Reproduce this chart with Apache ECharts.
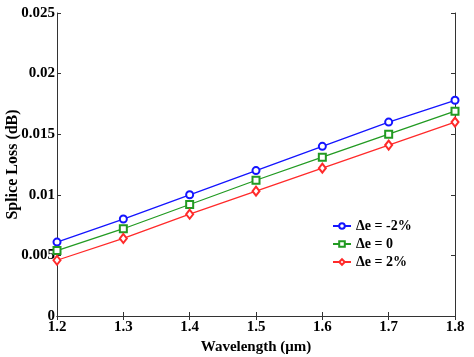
<!DOCTYPE html>
<html><head><meta charset="utf-8">
<script src="https://cdn.jsdelivr.net/npm/echarts@6/dist/echarts.min.js"></script>
<style>html,body{margin:0;padding:0;background:#fff}#c{width:474px;height:357px}</style>
</head><body><div id="c"></div>
<script>
const wavelengths = [1.2, 1.3, 1.4, 1.5, 1.6, 1.7, 1.8];
const seriesNames = ['Δe = -2%', 'Δe = 0', 'Δe = 2%'];
const lossMinus2 = [0.0061, 0.0080, 0.0100, 0.0120, 0.0140, 0.0160, 0.0178];
const lossZero = [0.0054, 0.0072, 0.0092, 0.0112, 0.0131, 0.0150, 0.0169];
const lossPlus2 = [0.0046, 0.0064, 0.0084, 0.0103, 0.0122, 0.0141, 0.0160];
const colors = ['#1414ff', '#229a22', '#ff2a2a'];
const symbols = ['emptyCircle', 'emptyRect', 'emptyDiamond'];
const font = 'Liberation Serif, Times New Roman, serif';

const chart = echarts.init(document.getElementById('c'));
const mk = (arr) => wavelengths.map((x, i) => [x, arr[i]]);
const allData = [lossMinus2, lossZero, lossPlus2];
const axisLine = {show: true, lineStyle: {color: '#333', width: 1}};
const tick = {inside: true, length: 4, lineStyle: {color: '#333'}};
chart.setOption({
  animation: false,
  grid: {left: 57, right: 19, top: 13, bottom: 41, outerBoundsMode: 'none', containLabel: false},
  legend: {
    left: 327, top: 214, orient: 'vertical', itemGap: 4, itemWidth: 18, itemHeight: 7,
    textStyle: {fontFamily: font, fontWeight: 'bold', fontSize: 14, color: '#000'},
    data: seriesNames
  },
  xAxis: [{
    type: 'value', min: 1.2, max: 1.8, interval: 0.1,
    name: 'Wavelength (μm)', nameLocation: 'middle', nameGap: 24, nameMoveOverlap: false,
    nameTextStyle: {fontFamily: font, fontWeight: 'bold', fontSize: 15, color: '#000'},
    axisLine: axisLine, axisTick: tick,
    axisLabel: {fontFamily: font, fontWeight: 'bold', fontSize: 15, color: '#000', margin: 4,
      formatter: v => v.toFixed(1)},
    splitLine: {show: false}
  }, {
    type: 'value', min: 1.2, max: 1.8, interval: 0.1, position: 'top',
    axisLine: axisLine, axisTick: tick,
    axisLabel: {show: false}, splitLine: {show: false}
  }],
  yAxis: [{
    type: 'value', min: 0, max: 0.025, interval: 0.005,
    name: 'Splice Loss (dB)', nameLocation: 'middle', nameGap: 36, nameMoveOverlap: false,
    nameTextStyle: {fontFamily: font, fontWeight: 'bold', fontSize: 16, color: '#000'},
    axisLine: axisLine, axisTick: tick,
    axisLabel: {fontFamily: font, fontWeight: 'bold', fontSize: 15, color: '#000', margin: 2},
    splitLine: {show: false}
  }, {
    type: 'value', min: 0, max: 0.025, interval: 0.005, position: 'right',
    axisLine: axisLine, axisTick: tick,
    axisLabel: {show: false}, splitLine: {show: false}
  }],
  series: seriesNames.map((n, i) => ({
    name: n, type: 'line', data: mk(allData[i]),
    symbol: symbols[i], symbolSize: i === 2 ? [7, 9] : 7,
    lineStyle: {color: colors[i], width: 1.3},
    itemStyle: {color: colors[i], borderWidth: 1}
  }))
});
</script></body></html>
